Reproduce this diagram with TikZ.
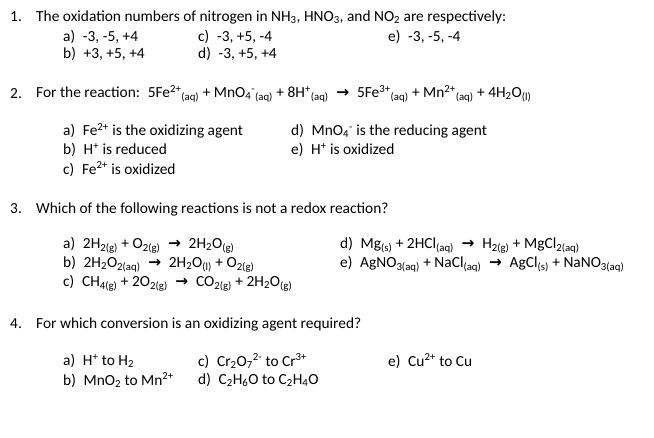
\documentclass[tikz,border=0pt]{standalone}
\usepackage{fontspec}
\setmainfont{Carlito}
\newfontfamily\dvs{DejaVu Sans}
\newcommand{\ar}{\enspace{\dvs\bfseries →}\enspace}
\newcommand{\sbs}[1]{\textsubscript{#1}}
\newcommand{\sps}[1]{\textsuperscript{#1}}
\begin{document}
\begin{tikzpicture}[x=1pt,y=-1pt,
  t/.style={anchor=west,inner sep=0pt,font=\fontsize{15.4}{18}\selectfont}]
\useasboundingbox (0,0) rectangle (654,438);
\fill[white] (0,0) rectangle (654,438);
% Q1
\node[t] (n1) at (10,17) {1.};
\node[t] (q1) at (36,17) {The oxidation numbers of nitrogen in NH\sbs{3}, HNO\sbs{3}, and NO\sbs{2} are respectively:};
\node[t] (q1a) at (63,37) {a)\enspace -3, -5, +4};
\node[t] (q1c) at (198,37) {c)\enspace -3, +5, -4};
\node[t] (q1e) at (388,37) {e)\enspace -3, -5, -4};
\node[t] (q1b) at (63,54) {b)\enspace +3, +5, +4};
\node[t] (q1d) at (198,54) {d)\enspace -3, +5, +4};
% Q2
\node[t] (n2) at (10,94) {2.};
\node[t] (q2) at (36,94) {For the reaction:\enspace 5Fe\sps{2+}\sbs{(aq)} + MnO\sbs{4}\sps{-}\sbs{(aq)} + 8H\sps{+}\sbs{(aq)}\ar 5Fe\sps{3+}\sbs{(aq)} + Mn\sps{2+}\sbs{(aq)} + 4H\sbs{2}O\sbs{(l)}};
\node[t] (q2a) at (63,131) {a)\enspace Fe\sps{2+} is the oxidizing agent};
\node[t] (q2d) at (291,131) {d)\enspace MnO\sbs{4}\sps{-} is the reducing agent};
\node[t] (q2b) at (63,150) {b)\enspace H\sps{+} is reduced};
\node[t] (q2e) at (291,150) {e)\enspace H\sps{+} is oxidized};
\node[t] (q2c) at (63,169) {c)\enspace Fe\sps{2+} is oxidized};
% Q3
\node[t] (n3) at (10,209) {3.};
\node[t] (q3) at (36,209) {Which of the following reactions is not a redox reaction?};
\node[t] (q3a) at (63,245) {a)\enspace 2H\sbs{2(g)} + O\sbs{2(g)}\ar 2H\sbs{2}O\sbs{(g)}};
\node[t] (q3d) at (340,245) {d)\enspace Mg\sbs{(s)} + 2HCl\sbs{(aq)}\ar H\sbs{2(g)} + MgCl\sbs{2(aq)}};
\node[t] (q3b) at (63,264) {b)\enspace 2H\sbs{2}O\sbs{2(aq)}\ar 2H\sbs{2}O\sbs{(l)} + O\sbs{2(g)}};
\node[t] (q3e) at (340,264) {e)\enspace AgNO\sbs{3(aq)} + NaCl\sbs{(aq)}\ar AgCl\sbs{(s)} + NaNO\sbs{3(aq)}};
\node[t] (q3c) at (63,283) {c)\enspace CH\sbs{4(g)} + 2O\sbs{2(g)}\ar CO\sbs{2(g)} + 2H\sbs{2}O\sbs{(g)}};
% Q4
\node[t] (n4) at (10,324) {4.};
\node[t] (q4) at (36,324) {For which conversion is an oxidizing agent required?};
\node[t] (q4a) at (63,361) {a)\enspace H\sps{+} to H\sbs{2}};
\node[t] (q4c) at (198,361) {c)\enspace Cr\sbs{2}O\sbs{7}\sps{2-} to Cr\sps{3+}};
\node[t] (q4e) at (388,361) {e)\enspace Cu\sps{2+} to Cu};
\node[t] (q4b) at (63,380) {b)\enspace MnO\sbs{2} to Mn\sps{2+}};
\node[t] (q4d) at (198,380) {d)\enspace C\sbs{2}H\sbs{6}O to C\sbs{2}H\sbs{4}O};
\end{tikzpicture}
\end{document}
